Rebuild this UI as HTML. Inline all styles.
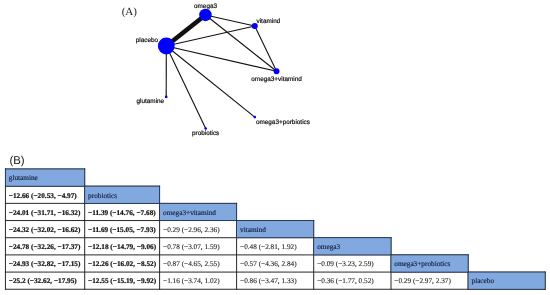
<!DOCTYPE html>
<html><head><meta charset="utf-8"><title>Figure</title>
<style>
html,body{margin:0;padding:0;background:#fff}
body{width:550px;height:295px;position:relative;overflow:hidden}
svg{position:absolute;left:0;top:0;display:block}
svg text{text-rendering:geometricPrecision;font-family:"Liberation Sans",sans-serif;font-size:6.38px;fill:#111;stroke:#111;stroke-width:0.2px}
svg .tb text{font-family:"Liberation Serif",serif;font-size:7.25px;fill:#1a1a1a;stroke:#1a1a1a;stroke-width:0.1px}
svg .tb text.b{font-weight:bold;fill:#111;stroke:#111;stroke-width:0.2px}
svg .tb text.h{fill:#14213d;stroke:#14213d;stroke-width:0.15px}
</style></head><body>
<svg width="550" height="295" viewBox="0 0 550 295">
<text x="121.7" y="14.8" style="font-family:'Liberation Serif',serif;font-size:11px;stroke:none;fill:#222">(A)</text>
<text x="194" y="8.4">omega3</text>
<text x="135.8" y="41.8">placebo</text>
<text x="256.5" y="23.15">vitamind</text>
<text x="251.3" y="80.5">omega3+vitamind</text>
<text x="136.5" y="102.65">glutamine</text>
<text x="192" y="134.95">probiotics</text>
<text x="255.9" y="123.6">omega3+porbiotics</text>
<g stroke="#111" stroke-width="1.1" fill="none">
<line x1="166.3" y1="46.0" x2="205.45" y2="14.95" stroke-width="4.6"/>
<line x1="166.3" y1="46.0" x2="254.75" y2="25.95"/>
<line x1="166.3" y1="46.0" x2="276.55" y2="71.3"/>
<line x1="166.3" y1="46.0" x2="166.2" y2="96.9"/>
<line x1="166.3" y1="46.0" x2="205.7" y2="128.5"/>
<line x1="166.3" y1="46.0" x2="254.8" y2="117.1"/>
<line x1="205.45" y1="14.95" x2="254.75" y2="25.95"/>
<line x1="205.45" y1="14.95" x2="276.55" y2="71.3"/>
<line x1="254.75" y1="25.95" x2="276.55" y2="71.3"/>
</g>
<g fill="#0000ff">
<circle cx="166.3" cy="46.0" r="8.4"/>
<circle cx="205.45" cy="14.95" r="6.25"/>
<circle cx="254.75" cy="25.95" r="3.05"/>
<circle cx="276.55" cy="71.3" r="2.95"/>
<circle cx="166.2" cy="96.9" r="1.35"/>
<circle cx="205.7" cy="128.5" r="1.35"/>
<circle cx="254.8" cy="117.1" r="1.35"/>
</g>
<text x="9.4" y="163.9" style="font-size:11.4px;stroke:none">(B)</text>
<g stroke="#1e1e1e" stroke-width="0.95" fill="none" stroke-linecap="square">
<line x1="5.45" y1="169.00" x2="84.70" y2="169.00"/>
<line x1="5.45" y1="186.18" x2="159.60" y2="186.18"/>
<line x1="5.45" y1="203.36" x2="236.60" y2="203.36"/>
<line x1="5.45" y1="220.54" x2="313.70" y2="220.54"/>
<line x1="5.45" y1="237.72" x2="391.00" y2="237.72"/>
<line x1="5.45" y1="254.90" x2="468.10" y2="254.90"/>
<line x1="5.45" y1="272.08" x2="545.15" y2="272.08"/>
<line x1="5.45" y1="289.26" x2="545.15" y2="289.26"/>
<line x1="5.45" y1="169.00" x2="5.45" y2="289.26"/>
<line x1="84.70" y1="169.00" x2="84.70" y2="289.26"/>
<line x1="159.60" y1="186.18" x2="159.60" y2="289.26"/>
<line x1="236.60" y1="203.36" x2="236.60" y2="289.26"/>
<line x1="313.70" y1="220.54" x2="313.70" y2="289.26"/>
<line x1="391.00" y1="237.72" x2="391.00" y2="289.26"/>
<line x1="468.10" y1="254.90" x2="468.10" y2="289.26"/>
<line x1="545.15" y1="272.08" x2="545.15" y2="289.26"/>
</g>
<g fill="#81a8df" stroke="#22304f" stroke-width="0.8">
<rect x="5.45" y="169.00" width="79.25" height="17.18"/>
<rect x="84.70" y="186.18" width="74.90" height="17.18"/>
<rect x="159.60" y="203.36" width="77.00" height="17.18"/>
<rect x="236.60" y="220.54" width="77.10" height="17.18"/>
<rect x="313.70" y="237.72" width="77.30" height="17.18"/>
<rect x="391.00" y="254.90" width="77.10" height="17.18"/>
<rect x="468.10" y="272.08" width="77.05" height="17.18"/>
</g>
<g class="tb">
<text class="h" x="8.80" y="180.35">glutamine</text>
<text class="b" x="8.80" y="197.53">−12.66 (−20.53, −4.97)</text>
<text class="h" x="88.10" y="197.53">probiotics</text>
<text class="b" x="8.80" y="214.71">−24.01 (−31.71, −16.32)</text>
<text class="b" x="88.10" y="214.71">−11.39 (−14.76, −7.68)</text>
<text class="h" x="163.10" y="214.71">omega3+vitamind</text>
<text class="b" x="8.80" y="231.89">−24.32 (−32.02, −16.62)</text>
<text class="b" x="88.10" y="231.89">−11.69 (−15.05, −7.93)</text>
<text x="163.10" y="231.89">−0.29 (−2.96, 2.36)</text>
<text class="h" x="240.10" y="231.89">vitamind</text>
<text class="b" x="8.80" y="249.07">−24.78 (−32.26, −17.37)</text>
<text class="b" x="88.10" y="249.07">−12.18 (−14.79, −9.06)</text>
<text x="163.10" y="249.07">−0.78 (−3.07, 1.59)</text>
<text x="240.10" y="249.07">−0.48 (−2.81, 1.92)</text>
<text class="h" x="317.20" y="249.07">omega3</text>
<text class="b" x="8.80" y="266.25">−24.93 (−32.82, −17.15)</text>
<text class="b" x="88.10" y="266.25">−12.26 (−16.02, −8.52)</text>
<text x="163.10" y="266.25">−0.87 (−4.65, 2.55)</text>
<text x="240.10" y="266.25">−0.57 (−4.36, 2.84)</text>
<text x="317.20" y="266.25">−0.09 (−3.23, 2.59)</text>
<text class="h" x="394.30" y="266.25">omega3+probiotics</text>
<text class="b" x="8.80" y="283.43">−25.2 (−32.62, −17.95)</text>
<text class="b" x="88.10" y="283.43">−12.55 (−15.19, −9.92)</text>
<text x="163.10" y="283.43">−1.16 (−3.74, 1.02)</text>
<text x="240.10" y="283.43">−0.86 (−3.47, 1.33)</text>
<text x="317.20" y="283.43">−0.36 (−1.77, 0.52)</text>
<text x="394.30" y="283.43">−0.29 (−2.97, 2.37)</text>
<text class="h" x="471.50" y="283.43">placebo</text>
</g>
</svg>
</body></html>
